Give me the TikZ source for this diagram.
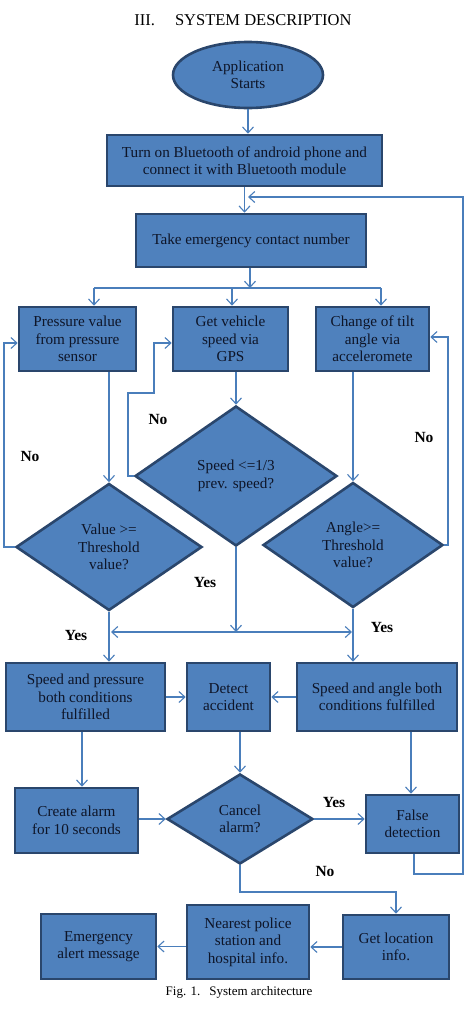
\documentclass[tikz,border=0pt]{standalone}
\usepackage{fontspec}
\setmainfont{Liberation Serif}
\usetikzlibrary{arrows.meta,shapes.geometric}
\definecolor{boxfill}{HTML}{4F81BD}
\definecolor{boxline}{HTML}{2A466C}
\definecolor{conn}{HTML}{4A7EBB}
\definecolor{txt}{HTML}{0E1528}
\begin{document}
\begin{tikzpicture}[x=1pt,y=-1pt,
  every node/.style={font=\fontsize{15.2}{17.5}\selectfont, text=txt, align=center, inner sep=0pt},
  box/.style={rectangle, draw=boxline, line width=2.6pt, fill=boxfill},
  oval/.style={ellipse, draw=boxline, line width=2.6pt, fill=boxfill},
  dia/.style={diamond, aspect=1, draw=boxline, line width=2.6pt, fill=boxfill},
  conline/.style={draw=conn, line width=1.1pt},
  arr/.style={conline, -{Straight Barb[length=6pt,width=11pt,line width=1.1pt]}},
  darr/.style={conline, {Straight Barb[length=6pt,width=11pt,line width=1.1pt]}-{Straight Barb[length=6pt,width=11pt,line width=1.1pt]}},
  lab/.style={font=\fontsize{15.5}{17}\selectfont\bfseries, text=black}]
\useasboundingbox (0,0) rectangle (474,1010);

\node[font=\fontsize{16.5}{18}\selectfont, text=black] (title) at (243,20) {III.\hspace{20pt}SYSTEM DESCRIPTION};

\node[oval, minimum width=150pt, minimum height=66pt] (start) at (248,75) {Application\\Starts};
\node[box, minimum width=275pt, minimum height=51pt] (bt) at (244.5,160.5) {Turn on Bluetooth of android phone and\\connect it with Bluetooth module};
\node[box, minimum width=230pt, minimum height=53pt] (ec) at (251,240.5) {Take emergency contact number};

\node[box, minimum width=117pt, minimum height=64pt] (pr) at (77.5,339) {Pressure value\\from pressure\\sensor};
\node[box, minimum width=115pt, minimum height=64pt] (gps) at (230.5,339) {Get vehicle\\speed via\\GPS};
\node[box, minimum width=113pt, minimum height=64pt] (tilt) at (372.5,339) {Change of tilt\\angle via\\acceleromete};

\node[dia, minimum width=202pt, minimum height=140pt] (speed) at (236,476) {Speed \textless=1/3\\prev. speed?};
\node[dia, minimum width=186pt, minimum height=127pt] (value) at (109,547) {Value \textgreater=\\Threshold\\value?};
\node[dia, minimum width=180pt, minimum height=125pt] (angle) at (353,545) {Angle\textgreater=\\Threshold\\value?};

\node[box, minimum width=159pt, minimum height=68pt] (sp) at (85.5,697) {Speed and pressure\\both conditions\\fulfilled};
\node[box, minimum width=83pt, minimum height=68pt] (det) at (228.5,697) {Detect\\accident};
\node[box, minimum width=160pt, minimum height=68pt] (sa) at (377,697) {Speed and angle both\\conditions fulfilled};

\node[box, minimum width=123pt, minimum height=65pt] (ca) at (76.5,820.5) {Create alarm\\for 10 seconds};
\node[dia, minimum width=146pt, minimum height=90pt] (cancel) at (240,819) {Cancel\\alarm?};
\node[box, minimum width=93pt, minimum height=58pt] (fd) at (412.5,824) {False\\detection};

\node[box, minimum width=106pt, minimum height=64pt] (gl) at (396,947) {Get location\\info.};
\node[box, minimum width=122pt, minimum height=74pt] (np) at (248,942) {Nearest police\\station and\\hospital info.};
\node[box, minimum width=115pt, minimum height=65pt] (em) at (98.5,946.5) {Emergency\\alert message};

\node[font=\fontsize{13}{15}\selectfont, text=black] (cap) at (239,992) {Fig. 1.\hspace{9pt}System architecture};

% coordinates
\coordinate (hl) at (250,288);
\coordinate (hL) at (94,288);
\coordinate (hR) at (381,288);
\coordinate (hM) at (232,288);
\coordinate (yl) at (111,632);
\coordinate (yr) at (352,632);
\coordinate (ym) at (236,632);
\coordinate (fb) at (248,197);

% connectors
\draw[arr] (start.south) -- (start.south |- bt.north);
\draw[arr] (bt.south) -- (bt.south |- ec.north);
\draw[arr] (ec.south -| hl) -- (hl);
\draw[conline] (hL) -- (hR);
\draw[arr] (hL) -- (hL |- pr.north);
\draw[arr] (hM) -- (hM |- gps.north);
\draw[arr] (hR) -- (hR |- tilt.north);

\draw[arr] (value.north |- pr.south) -- (value.north);
\draw[arr] (speed.north |- gps.south) -- (speed.north);
\draw[arr] (angle.north |- tilt.south) -- (angle.north);

\draw[arr] (value.west) -- (4,547) -- (4,343) -- (pr.west |- 0,343);
\draw[arr] (speed.west) -- (128,476) -- (128,393) -- (154,393) -- (154,343) -- (gps.west |- 0,343);
\draw[arr] (angle.east) -- (448,545) -- (448,337) -- (tilt.east |- 0,337);

\draw[arr] (speed.south) -- (ym);
\draw[darr] (yl) -- (yr);
\draw[arr] (value.south) -- (value.south |- sp.north);
\draw[arr] (angle.south) -- (angle.south |- sa.north);

\draw[arr] (sp.east) -- (det.west);
\draw[arr] (sa.west) -- (det.east);
\draw[arr] (82,0 |- sp.south) -- (82,0 |- ca.north);
\draw[arr] (det.south -| cancel.north) -- (cancel.north);
\draw[arr] (411,0 |- sa.south) -- (411,0 |- fd.north);

\draw[arr] (ca.east |- cancel.west) -- (cancel.west);
\draw[arr] (cancel.east) -- (fd.west |- cancel.east);
\draw[arr] (414,0 |- fd.south) -- (414,874) -- (463,874) -- (463,197) -- (fb);
\draw[arr] (cancel.south) -- (240,892) -- (gl.north |- 0,892) -- (gl.north);

\draw[arr] (gl.west) -- (np.east |- gl.west);
\draw[arr] (np.west |- em.east) -- (em.east);

% labels
\node[lab] (n1) at (30,456) {No};
\node[lab] (n2) at (158,419) {No};
\node[lab] (n3) at (424,437) {No};
\node[lab] (y1) at (205,582) {Yes};
\node[lab] (y2) at (76,635) {Yes};
\node[lab] (y3) at (382,627) {Yes};
\node[lab] (y4) at (334,802) {Yes};
\node[lab] (n4) at (325,871) {No};
\end{tikzpicture}
\end{document}
